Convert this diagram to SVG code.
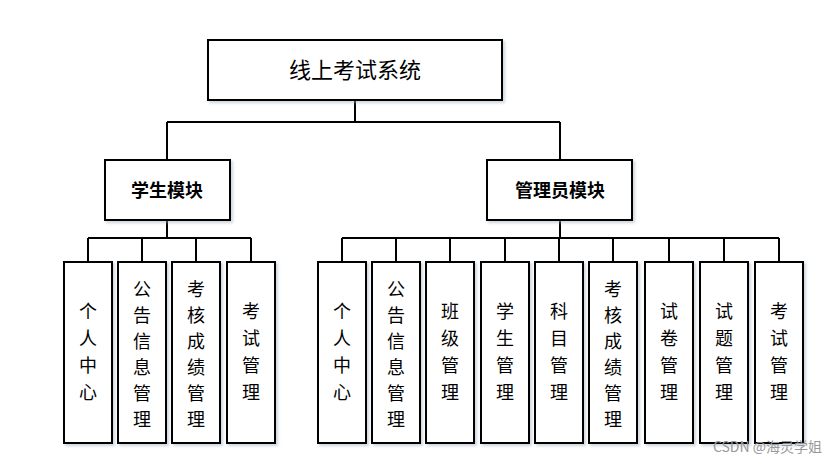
<svg xmlns="http://www.w3.org/2000/svg" width="838" height="465" viewBox="0 0 838 465">
<defs><filter id="sh" x="-10%" y="-10%" width="130%" height="130%"><feDropShadow dx="2" dy="2" stdDeviation="1.5" flood-color="#9ab" flood-opacity="0.5"/></filter></defs>
<style>
.b{fill:#fff;stroke:#000;stroke-width:2;filter:url(#sh)}
.t{font-family:"Noto Sans CJK SC",sans-serif;font-size:18px;text-anchor:middle;fill:#000}
.c{fill:none;stroke:#000;stroke-width:2}
</style>
<rect width="838" height="465" fill="#fff"/>
<g id="connectors">
<path class="c" d="M355,100V122M167,122H560M167,122V160M560,122V160"/>
<path class="c" d="M167,220V238M88,238H251M88,238V262M142,238V262M196,238V262M251,238V262"/>
<path class="c" d="M560,220V238M342,238H779M342,238V262M396,238V262M450,238V262M505,238V262M559,238V262M613,238V262M669,238V262M724,238V262M779,238V262"/>
</g>
<g id="root"><rect class="b" x="208" y="40" width="294" height="60"/><text class="t" x="355" y="78" style="font-size:22px">线上考试系统</text></g>
<g id="student"><rect class="b" x="105" y="160" width="125" height="60"/><text class="t" x="167" y="197" style="font-weight:bold">学生模块</text></g>
<g id="admin"><rect class="b" x="487" y="160" width="145" height="60"/><text class="t" x="560" y="197" style="font-weight:bold">管理员模块</text></g>
<g id="s1"><rect class="b" x="64" y="262" width="48" height="181"/><text class="t" x="88"><tspan x="88" y="318">个</tspan><tspan x="88" dy="27">人</tspan><tspan x="88" dy="27">中</tspan><tspan x="88" dy="27">心</tspan></text></g>
<g id="s2"><rect class="b" x="118" y="262" width="48" height="181"/><text class="t"><tspan x="142" y="296">公</tspan><tspan x="142" dy="26">告</tspan><tspan x="142" dy="26">信</tspan><tspan x="142" dy="26">息</tspan><tspan x="142" dy="26">管</tspan><tspan x="142" dy="26">理</tspan></text></g>
<g id="s3"><rect class="b" x="172" y="262" width="48" height="181"/><text class="t"><tspan x="196" y="296">考</tspan><tspan x="196" dy="26">核</tspan><tspan x="196" dy="26">成</tspan><tspan x="196" dy="26">绩</tspan><tspan x="196" dy="26">管</tspan><tspan x="196" dy="26">理</tspan></text></g>
<g id="s4"><rect class="b" x="227" y="262" width="48" height="181"/><text class="t"><tspan x="251" y="318">考</tspan><tspan x="251" dy="27">试</tspan><tspan x="251" dy="27">管</tspan><tspan x="251" dy="27">理</tspan></text></g>
<g id="a1"><rect class="b" x="318" y="262" width="48" height="181"/><text class="t"><tspan x="342" y="318">个</tspan><tspan x="342" dy="27">人</tspan><tspan x="342" dy="27">中</tspan><tspan x="342" dy="27">心</tspan></text></g>
<g id="a2"><rect class="b" x="372" y="262" width="48" height="181"/><text class="t"><tspan x="396" y="296">公</tspan><tspan x="396" dy="26">告</tspan><tspan x="396" dy="26">信</tspan><tspan x="396" dy="26">息</tspan><tspan x="396" dy="26">管</tspan><tspan x="396" dy="26">理</tspan></text></g>
<g id="a3"><rect class="b" x="426" y="262" width="48" height="181"/><text class="t"><tspan x="450" y="318">班</tspan><tspan x="450" dy="27">级</tspan><tspan x="450" dy="27">管</tspan><tspan x="450" dy="27">理</tspan></text></g>
<g id="a4"><rect class="b" x="481" y="262" width="48" height="181"/><text class="t"><tspan x="505" y="318">学</tspan><tspan x="505" dy="27">生</tspan><tspan x="505" dy="27">管</tspan><tspan x="505" dy="27">理</tspan></text></g>
<g id="a5"><rect class="b" x="535" y="262" width="48" height="181"/><text class="t"><tspan x="559" y="318">科</tspan><tspan x="559" dy="27">目</tspan><tspan x="559" dy="27">管</tspan><tspan x="559" dy="27">理</tspan></text></g>
<g id="a6"><rect class="b" x="589" y="262" width="48" height="181"/><text class="t"><tspan x="613" y="296">考</tspan><tspan x="613" dy="26">核</tspan><tspan x="613" dy="26">成</tspan><tspan x="613" dy="26">绩</tspan><tspan x="613" dy="26">管</tspan><tspan x="613" dy="26">理</tspan></text></g>
<g id="a7"><rect class="b" x="645" y="262" width="48" height="181"/><text class="t"><tspan x="669" y="318">试</tspan><tspan x="669" dy="27">卷</tspan><tspan x="669" dy="27">管</tspan><tspan x="669" dy="27">理</tspan></text></g>
<g id="a8"><rect class="b" x="700" y="262" width="48" height="181"/><text class="t"><tspan x="724" y="318">试</tspan><tspan x="724" dy="27">题</tspan><tspan x="724" dy="27">管</tspan><tspan x="724" dy="27">理</tspan></text></g>
<g id="a9"><rect class="b" x="755" y="262" width="48" height="181"/><text class="t"><tspan x="779" y="318">考</tspan><tspan x="779" dy="27">试</tspan><tspan x="779" dy="27">管</tspan><tspan x="779" dy="27">理</tspan></text></g>
<text x="822" y="452" style="font-family:'Noto Sans CJK SC',sans-serif;font-size:14px;fill:#999;text-anchor:end">CSDN @海灵学姐</text>
</svg>
